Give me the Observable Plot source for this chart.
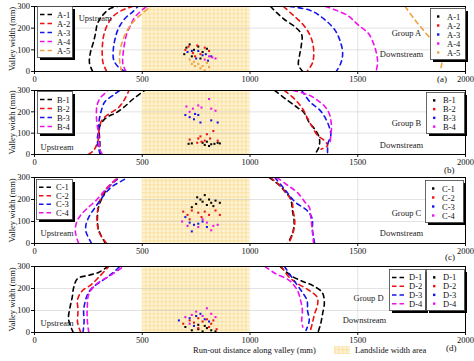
<!DOCTYPE html>
<html><head><meta charset="utf-8">
<script src="https://cdn.jsdelivr.net/npm/d3@7"></script>
<script src="https://cdn.jsdelivr.net/npm/@observablehq/plot@0.6"></script>
<style>
body{margin:0;background:#fff;}
#root{position:relative;width:474px;height:361px;font-family:"Liberation Serif","Times New Roman",serif;overflow:hidden;background:#fff}
.panel{position:absolute;left:0}
.lbl{position:absolute;font-size:8.5px;color:#111;white-space:nowrap}
.leg{position:absolute}
</style>
</head><body><div id="root"></div>
<script>
// ---------- data ----------
const xTicks = [0, 500, 1000, 1500, 2000];
const yTicks = [0, 100, 200, 300];
const landslideZone = [500, 1000];

const A_names = ["A-1", "A-2", "A-3", "A-4", "A-5"];
const A_up = [
  [[270,0],[255,40],[260,90],[272,130],[283,175],[292,220],[315,258],[350,290],[385,300]],
  [[335,0],[318,40],[314,90],[316,130],[322,170],[338,215],[365,255],[405,282],[455,300]],
  [[420,0],[385,25],[367,55],[366,105],[375,155],[390,200],[420,245],[452,272],[480,300]],
  [[425,0],[410,35],[412,90],[418,130],[430,180],[445,212],[465,250],[495,280],[520,300]],
  [[405,0],[395,50],[400,110],[420,170],[450,220],[490,260],[540,300]]
];
const A_down = [
  [[1095,300],[1120,275],[1160,240],[1210,205],[1240,170],[1238,120],[1230,75],[1225,30],[1245,0]],
  [[1155,300],[1200,260],[1243,220],[1272,180],[1290,135],[1296,85],[1290,40],[1265,0]],
  [[1185,300],[1280,282],[1340,245],[1395,190],[1420,135],[1430,85],[1422,40],[1400,0]],
  [[1350,300],[1450,260],[1505,212],[1550,175],[1573,130],[1587,83],[1592,40],[1585,0]],
  [[1720,300],[1760,245],[1805,190],[1850,135],[1875,85],[1890,40],[1880,0]]
];
const A_pts = [
  [[695,80],[705,110],[720,125],[740,100],[760,115],[780,90],[800,105],[730,70],[770,60]],
  [[700,100],[715,115],[735,85],[755,120],[790,110],[810,95],[745,70],[770,80]],
  [[710,90],[730,95],[760,95],[780,75],[795,80],[820,70],[750,60],[805,50]],
  [[825,65],[840,60],[810,70],[790,55]],
  [[720,55],[740,45],[760,35],[780,25],[800,40],[770,15],[790,5],[745,25],[810,20],[730,35]]
];

const B_names = ["B-1", "B-2", "B-3", "B-4"];
const B_up = [
  [[305,0],[303,60],[302,130],[320,160],[345,180],[378,195],[415,222],[460,262],[510,300]],
  [[250,0],[275,20],[295,65],[300,115],[312,160],[345,190],[390,220],[420,262],[438,300]],
  [[305,0],[295,40],[292,75],[298,120],[300,160],[310,205],[325,245],[365,278],[395,300]],
  [[315,0],[305,20],[300,60],[295,110],[288,165],[290,230],[305,265],[330,290],[340,300]]
];
const B_down = [
  [[1115,300],[1175,253],[1220,220],[1250,197],[1275,150],[1305,113],[1322,75],[1320,35],[1300,0]],
  [[1160,300],[1205,262],[1243,216],[1267,170],[1290,128],[1313,90],[1345,65],[1360,42],[1330,25]],
  [[1240,300],[1280,245],[1325,207],[1350,170],[1368,128],[1375,90],[1362,52],[1360,0]],
  [[1200,300],[1275,278],[1315,253],[1350,222],[1370,185],[1378,130],[1375,90],[1372,60]]
];
const B_pts = [
  [[715,50],[730,52],[780,55],[800,60],[820,48],[835,50],[850,55],[860,52],[790,45],[810,40]],
  [[720,70],[760,75],[770,85],[790,65],[800,95],[830,110],[850,65],[775,60],[755,55],[815,75]],
  [[700,185],[720,175],[740,165],[745,190],[760,185],[770,150],[820,160],[850,150]],
  [[705,225],[720,200],[735,215],[760,230],[775,220],[810,260],[820,215],[840,205]]
];

const C_names = ["C-1", "C-2", "C-3", "C-4"];
const C_up = [
  [[330,0],[298,60],[292,105],[297,165],[315,210],[338,250],[375,285],[395,300]],
  [[335,0],[300,50],[290,110],[293,150],[305,200],[330,245],[365,280],[385,300]],
  [[265,0],[240,50],[238,80],[252,120],[282,165],[315,210],[355,255],[415,290],[430,300]],
  [[205,0],[190,50],[195,95],[215,130],[245,160],[285,195],[320,235],[350,265],[390,300]]
];
const C_down = [
  [[1090,300],[1137,264],[1165,232],[1188,205],[1197,150],[1205,95],[1197,45],[1175,0]],
  [[1095,300],[1140,262],[1170,228],[1195,190],[1200,150],[1208,100],[1200,50],[1180,0]],
  [[1115,300],[1165,241],[1210,188],[1265,150],[1288,115],[1290,60],[1300,0]],
  [[1125,300],[1175,264],[1220,232],[1255,188],[1275,165],[1282,120],[1288,70],[1295,0]]
];
const C_pts = [
  [[730,165],[750,180],[770,200],[780,190],[800,175],[810,200],[820,185],[840,195],[755,210],[790,220],[860,185],[830,170]],
  [[690,145],[710,130],[730,150],[760,140],[790,145],[810,130],[840,150],[860,130],[775,120],[720,110]],
  [[700,120],[720,95],[740,85],[760,90],[730,55],[780,100],[800,75]],
  [[685,100],[710,80],[760,75],[800,95],[830,80],[850,85],[820,60],[780,110]]
];

const D_names = ["D-1", "D-2", "D-3", "D-4"];
const D_up = [
  [[180,0],[158,60],[165,115],[175,160],[182,205],[200,245],[250,260],[297,273],[340,300]],
  [[215,0],[200,45],[202,100],[200,150],[222,190],[260,215],[297,250],[335,290],[345,300]],
  [[225,0],[230,50],[228,100],[235,140],[248,177],[270,205],[315,236],[365,272],[395,300]],
  [[252,0],[245,55],[245,115],[252,175],[290,222],[350,258],[405,295],[410,300]]
];
const D_down = [
  [[1140,300],[1188,260],[1235,236],[1290,214],[1335,182],[1345,135],[1337,86],[1328,40],[1315,0]],
  [[1145,300],[1183,250],[1220,223],[1275,191],[1312,160],[1313,123],[1300,86],[1290,45],[1278,0]],
  [[1160,300],[1210,228],[1243,183],[1265,145],[1267,100],[1275,55],[1260,10]],
  [[1070,300],[1118,268],[1183,236],[1220,191],[1235,145],[1243,100],[1240,55],[1245,25]]
];
const D_pts = [
  [[700,25],[730,10],[760,15],[780,5],[800,20],[820,10],[840,5],[760,35],[790,30]],
  [[690,40],[720,55],[740,45],[760,65],[780,50],[800,60],[820,40],[830,55],[760,20],[810,25],[845,15]],
  [[670,55],[720,65],[750,75],[770,85],[790,60],[810,50],[740,30]],
  [[700,70],[730,80],[750,95],[780,75],[800,110],[840,70],[820,85],[720,40]]
];

const panelLetters = ["(a)", "(b)", "(c)", "(d)"];
const groupLabels = ["Group A", "Group B", "Group C", "Group D"];
const upLabel = "Upstream";
const downLabel = "Downstream";
const xTitle = "Run-out distance along valley (mm)";
const yTitle = "Valley width (mm)";
const zoneLabel = "Landslide width area";

// ---------- styling ----------
const seriesColors = ["#000000", "#ee1111", "#1515ee", "#ee11ee", "#f0a040"];
const FONT = "'Liberation Serif','Times New Roman',serif";
const root = document.getElementById("root");

function fillPattern(p) {
  p.append("rect").attr("width", 4).attr("height", 4).attr("fill", "#fef3d6");
  p.append("rect").attr("y", 1).attr("width", 4).attr("height", 1.5).attr("fill", "#f9e2a6").attr("opacity", 0.8);
  p.append("rect").attr("x", 1).attr("width", 1.5).attr("height", 4).attr("fill", "#f9e2a6").attr("opacity", 0.8);
}
function patternMark(id) {
  return () => {
    const defs = d3.create("svg:defs");
    const p = defs.append("pattern").attr("id", id).attr("width", 4).attr("height", 4).attr("patternUnits", "userSpaceOnUse");
    fillPattern(p);
    return defs.node();
  };
}

const panels = [
  {names: A_names, up: A_up, down: A_down, pts: A_pts, svgTop: 0, ph: 65,
   upPos: [205, 245], grpPos: [1726, 175], dnPos: [1703, 78],
   letter: [443, 80], lineLeg: [37, 6, 35, 51], dotLeg: [430, 8, 35, 51]},
  {names: B_names, up: B_up, down: B_down, pts: B_pts, svgTop: 84, ph: 64,
   upPos: [28, 33], grpPos: [1726, 145], dnPos: [1703, 42],
   letter: [450, 171], lineLeg: [37, 91, 35, 42], dotLeg: [426, 92, 38, 41]},
  {names: C_names, up: C_up, down: C_down, pts: C_pts, svgTop: 171, ph: 66,
   upPos: [28, 45], grpPos: [1726, 136], dnPos: [1703, 45],
   letter: [451, 258], lineLeg: [36, 179, 36, 40], dotLeg: [425, 180, 38, 42]},
  {names: D_names, up: D_up, down: D_down, pts: D_pts, svgTop: 260, ph: 66,
   upPos: [28, 41], grpPos: [1550, 155], dnPos: [1531, 55],
   letter: [452, 349], lineLeg: [389, 269, 36, 41], dotLeg: [426, 269, 38, 41]}
];

panels.forEach((P, i) => {
  const lineRows = [];
  P.names.forEach((n, k) => {
    P.up[k].forEach(([x, y]) => lineRows.push({series: n, key: n + "u", x, y}));
    P.down[k].forEach(([x, y]) => lineRows.push({series: n, key: n + "d", x, y}));
  });
  const dotRows = [];
  P.names.forEach((n, k) => P.pts[k].forEach(([x, y]) => dotRows.push({series: n, x, y})));
  const midRows = [
    {text: groupLabels[i], x: P.grpPos[0], y: P.grpPos[1]},
    {text: downLabel, x: P.dnPos[0], y: P.dnPos[1]}
  ];
  const upRows = [{text: upLabel, x: P.upPos[0], y: P.upPos[1]}];
  const patId = "pat" + i;
  const mt = 6, mb = 14;
  const plot = Plot.plot({
    width: 474, height: mt + P.ph + mb,
    marginLeft: 34, marginRight: 9, marginTop: mt, marginBottom: mb,
    style: {fontFamily: FONT, fontSize: "8.5px", color: "#111", background: "transparent"},
    x: {domain: [xTicks[0], xTicks[xTicks.length - 1]]},
    y: {domain: [yTicks[0], yTicks[yTicks.length - 1]]},
    color: {domain: P.names, range: seriesColors.slice(0, P.names.length)},
    marks: [
      patternMark(patId),
      Plot.rect([landslideZone], {x1: d => d[0], x2: d => d[1], y1: () => yTicks[0], y2: () => yTicks[yTicks.length - 1], fill: `url(#${patId})`}),
      Plot.gridY(yTicks.slice(1, -1), {stroke: "#bbb", strokeOpacity: 0.7, strokeWidth: 0.6}),
      Plot.gridX([xTicks[3]], {stroke: "#bbb", strokeOpacity: 0.7, strokeWidth: 0.6}),
      Plot.axisX(xTicks, {tickSize: 3, tickPadding: 1.5, label: null, fontSize: 8.5, tickFormat: d => String(d)}),
      Plot.axisY(yTicks, {tickSize: 3, tickPadding: 1.5, label: yTitle, labelAnchor: "center", labelArrow: "none", labelOffset: 26, fontSize: 8.5, tickFormat: d => String(d)}),
      Plot.line(lineRows, {x: "x", y: "y", z: "key", stroke: "series", curve: "catmull-rom", strokeDasharray: "4.5,4", strokeWidth: 1.6, clip: true}),
      Plot.dot(dotRows, {x: "x", y: "y", fill: "series", symbol: "square", r: 1.15}),
      Plot.text(midRows, {x: "x", y: "y", text: "text", textAnchor: "middle", fill: "#222", fontSize: 8.5}),
      Plot.text(upRows, {x: "x", y: "y", text: "text", textAnchor: "start", fill: "#222", fontSize: 8.5}),
      Plot.frame({stroke: "#000", strokeWidth: 1})
    ]
  });
  plot.classList.add("panel");
  plot.style.top = P.svgTop + "px";
  root.appendChild(plot);

  const L = document.createElement("div");
  L.className = "lbl";
  L.textContent = panelLetters[i];
  L.style.left = (P.letter[0] - 6) + "px";
  L.style.top = (P.letter[1] - 6) + "px";
  L.style.fontSize = "9px";
  root.appendChild(L);

  function legend(box, kind) {
    const [lx, ly, w, h] = box;
    const s = d3.create("svg").attr("class", "leg").attr("width", w + 4).attr("height", h + 4)
      .style("left", lx + "px").style("top", ly + "px").style("overflow", "visible");
    s.append("rect").attr("x", 3).attr("y", 3).attr("width", w).attr("height", h).attr("fill", "#000");
    s.append("rect").attr("x", 0.5).attr("y", 0.5).attr("width", w).attr("height", h).attr("fill", "#fff").attr("stroke", "#444").attr("stroke-width", 0.8);
    const n = P.names.length;
    const step = (h - 6) / n;
    P.names.forEach((name, k) => {
      const cy = 4 + step * (k + 0.5);
      if (kind === "line") {
        s.append("line").attr("x1", 3).attr("x2", 17).attr("y1", cy).attr("y2", cy)
          .attr("stroke", seriesColors[k]).attr("stroke-width", 1.5).attr("stroke-dasharray", "4.5,3");
        s.append("text").attr("x", 20).attr("y", cy + 3).text(name).attr("font-size", 8.5).attr("font-family", FONT).attr("fill", "#111");
      } else {
        s.append("rect").attr("x", 7).attr("y", cy - 1.2).attr("width", 2.4).attr("height", 2.4).attr("fill", seriesColors[k]);
        s.append("text").attr("x", 17).attr("y", cy + 3).text(name).attr("font-size", 8.5).attr("font-family", FONT).attr("fill", "#111");
      }
    });
    root.appendChild(s.node());
  }
  legend(P.lineLeg, "line");
  legend(P.dotLeg, "dot");
});

// bottom title and zone legend
const xt = document.createElement("div");
xt.className = "lbl"; xt.textContent = xTitle;
xt.style.left = "193px"; xt.style.top = "345px"; xt.style.fontSize = "8.5px";
root.appendChild(xt);
const zl = d3.create("svg").attr("class", "leg").attr("width", 100).attr("height", 14)
  .style("left", "333px").style("top", "344px");
zl.append("defs").append("pattern").attr("id", "patz").attr("width", 4).attr("height", 4).attr("patternUnits", "userSpaceOnUse")
  .call(fillPattern);
zl.append("rect").attr("x", 1).attr("y", 2).attr("width", 16).attr("height", 8).attr("fill", "url(#patz)");
zl.append("text").attr("x", 22).attr("y", 9).text(zoneLabel).attr("font-size", 8.5).attr("font-family", FONT).attr("fill", "#111");
root.appendChild(zl.node());
</script>
</body></html>
